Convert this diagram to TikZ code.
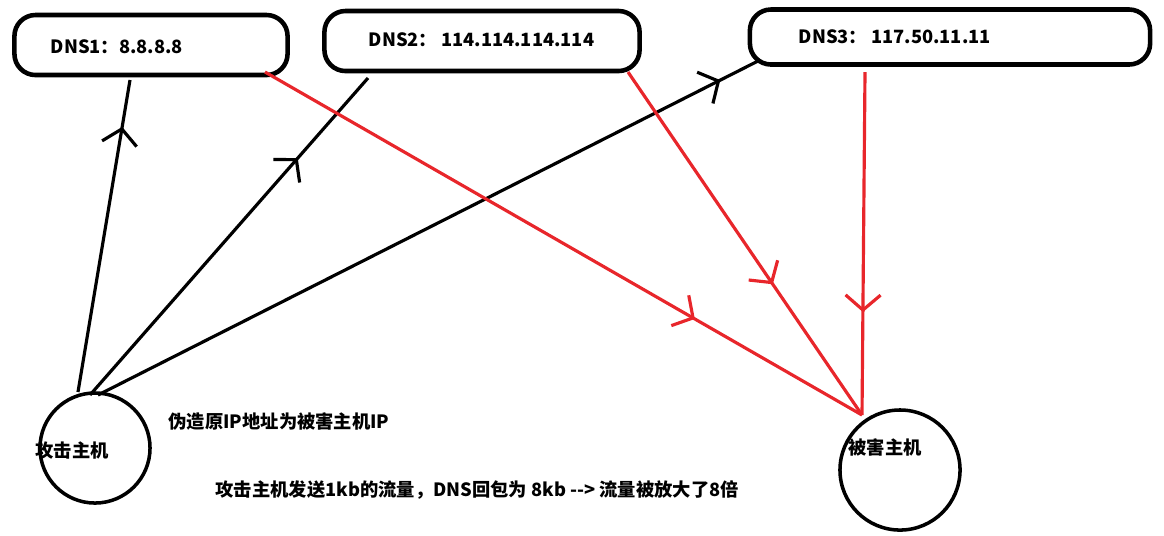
\documentclass[tikz,border=0pt]{standalone}
\usepackage{fontspec}
\setmainfont{Noto Sans CJK SC}
\usetikzlibrary{decorations.markings,arrows.meta}
\definecolor{pen}{HTML}{E8262B}
\tikzset{
 dnsbox/.style={draw,line width=1.3pt,rounded corners=6pt,minimum height=0.6cm},
 host/.style={draw,circle,line width=1pt},
 lbl/.style={font=\bfseries\fontsize{5.2}{6}\selectfont,inner sep=0pt},
 blk/.style={line width=0.9pt,black,postaction={decorate},decoration={markings,mark=at position #1 with {\arrow{Straight Barb[length=1.5mm,width=3.5mm]}}}},
 red/.style={line width=0.9pt,pen,postaction={decorate},decoration={markings,mark=at position #1 with {\arrow{Straight Barb[length=1.5mm,width=3.5mm]}}}}
}
\begin{document}
\begin{tikzpicture}[x=0.01cm,y=-0.01cm]
\useasboundingbox (0,0) rectangle (1164,535);
\node[dnsbox,minimum width=2.73cm] (d1) at (151,45) {};
\node[lbl,anchor=west] (t1) at (50,47) {DNS1：8.8.8.8};
\node[dnsbox,minimum width=3.15cm] (d2) at (482,41) {};
\node[lbl,anchor=west] (t2) at (368,40) {DNS2：\ 114.114.114.114};
\node[dnsbox,minimum width=4.0cm,minimum height=0.55cm] (d3) at (950,37) {};
\node[lbl,anchor=west] (t3) at (798,37) {DNS3：\ 117.50.11.11};
\node[host,minimum size=1.1cm] (a) at (95,448) {};
\node[lbl] (ta) at (72,450) {攻击主机};
\node[host,minimum size=1.2cm] (v) at (900,470) {};
\node[lbl] (tv) at (885,447) {被害主机};
\node[lbl,anchor=west] (n1) at (168,422) {伪造原IP地址为被害主机IP};
\node[lbl,anchor=west] (n2) at (215,490) {攻击主机发送1kb的流量，DNS回包为 8kb -{}-{}> 流量被放大了8倍};
\coordinate (a1) at (78,392); \coordinate (a2) at (90,395); \coordinate (a3) at (98,395);
\coordinate (e1) at (130,80); \coordinate (e2) at (368,78); \coordinate (e3) at (760,60);
\coordinate (r1) at (265,72); \coordinate (r2) at (628,72); \coordinate (r3) at (865,72);
\coordinate (vt) at (862,415);
\draw[blk=0.85] (a1) -- (e1);
\draw[blk=0.75] (a2) -- (e2);
\draw[blk=0.94] (a3) -- (e3);
\draw[red=0.72] (r1) -- (vt);
\draw[red=0.62] (r2) -- (vt);
\draw[red=0.7] (r3) -- (vt);
\end{tikzpicture}
\end{document}
